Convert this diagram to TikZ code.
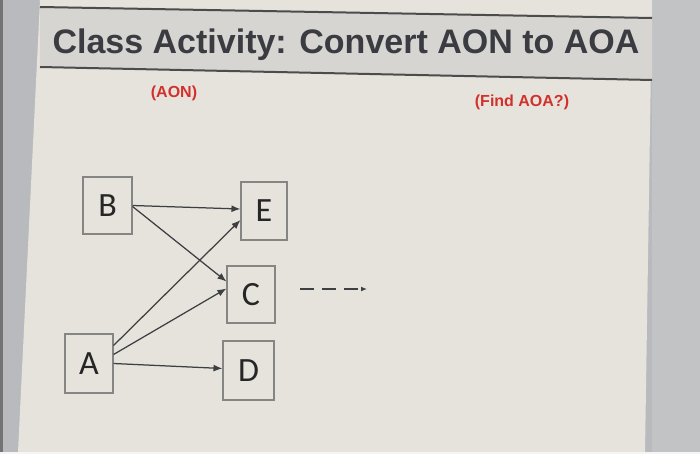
\documentclass[tikz,border=0pt]{standalone}
\usepackage{fontspec}
\setmainfont{Liberation Sans}
\newfontfamily\boxfont{Carlito}
\usetikzlibrary{arrows.meta,calc}
\definecolor{slidebg}{HTML}{E6E3DC}
\definecolor{bandbg}{HTML}{D6D5D2}
\definecolor{edgegray}{HTML}{B9BABD}
\definecolor{rightgray}{HTML}{C2C3C5}
\definecolor{titlecol}{HTML}{3A3C41}
\definecolor{redlbl}{HTML}{D2302C}
\definecolor{boxline}{HTML}{858583}
\definecolor{arrowcol}{HTML}{3E3F43}
\tikzset{
  actbox/.style={draw=boxline, line width=1.1pt, inner sep=0pt, font=\boxfont\fontsize{34}{34}\selectfont, text=black!85},
  link/.style={draw=arrowcol, line width=1.25pt, -{Latex[length=9pt,width=7pt]}},
  dashlink/.style={draw=arrowcol, line width=1.6pt, dash pattern=on 14pt off 8pt, -{Latex[length=6pt,width=5pt]}},
  redlabel/.style={text=redlbl, font=\bfseries\fontsize{16}{16}\selectfont}
}
\begin{document}
\begin{tikzpicture}[x=1pt,y=-1pt]
\useasboundingbox (0,0) rectangle (700,454);
% background photo areas
\fill[edgegray] (0,0) rectangle (700,454);
\fill[rightgray] (652,0) rectangle (700,454);
\fill[slidebg] (40,0) -- (652,0) -- (645,452) -- (18,452) -- cycle;
\fill[black!55] (0,0) rectangle (3,454);
\fill[white!92!gray] (0,452) rectangle (700,454);
% title band
\fill[bandbg] (40,7) -- (652,18) -- (652,80) -- (40,67) -- cycle;
\draw[black!70, line width=2pt] (40,7) -- (652,18);
\draw[black!70, line width=2pt] (40,67) -- (652,80);
\node[text=titlecol, font=\bfseries\fontsize{34}{34}\selectfont] (title) at (346,45) {Class Activity: Convert AON to AOA};
% red labels
\node[redlabel] (aon) at (174,93) {(AON)};
\node[redlabel] (aoa) at (522,102) {(Find AOA?)};
% boxes
\node[actbox, minimum width=49pt, minimum height=57pt] (B) at (107.5,205.5) {B};
\node[actbox, minimum width=46pt, minimum height=58pt] (E) at (264,211) {E};
\node[actbox, minimum width=48pt, minimum height=57pt] (C) at (251,294.5) {C};
\node[actbox, minimum width=48pt, minimum height=59pt] (A) at (89,363.5) {A};
\node[actbox, minimum width=51pt, minimum height=59pt] (D) at (248.5,370.5) {D};
% connectors
\draw[link] (B.east) -- ([yshift=2pt]E.west);
\draw[link] ([yshift=-1pt]B.east) -- ([yshift=13pt]C.west);
\draw[link] ([yshift=18pt]A.east) -- ([yshift=-9pt]E.west);
\draw[link] ([yshift=9pt]A.east) -- ([yshift=6pt]C.west);
\draw[link] (A.east) -- ([yshift=2pt]D.west);
% dashed arrow
\coordinate (ds) at (300,289);
\coordinate (de) at (367,289);
\draw[dashlink] (ds) -- (de);
\end{tikzpicture}
\end{document}
